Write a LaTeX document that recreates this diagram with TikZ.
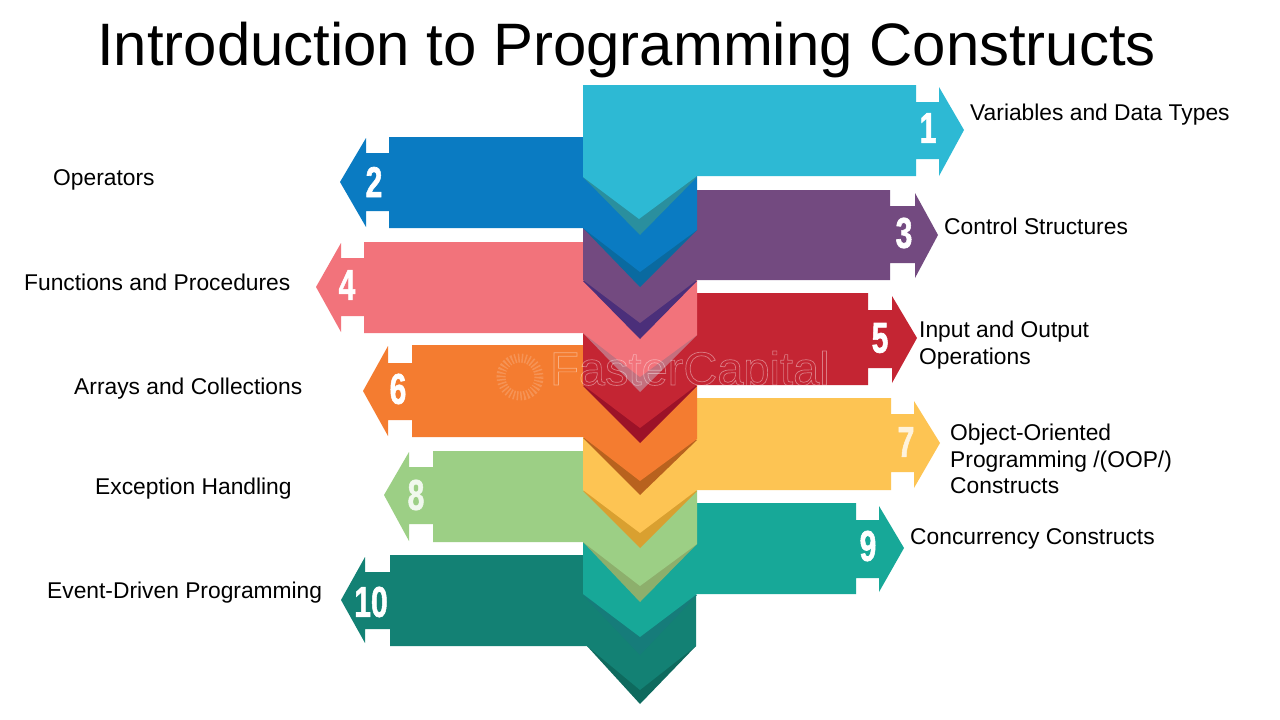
\documentclass[tikz,border=0pt]{standalone}
\usepackage{fontspec}
\setmainfont{Liberation Sans}
\definecolor{c1}{HTML}{2DB9D4}\definecolor{s1}{HTML}{2A8F9E}
\definecolor{c2}{HTML}{0A7BC2}\definecolor{s2}{HTML}{0A6AA0}
\definecolor{c3}{HTML}{734A80}\definecolor{s3}{HTML}{4B2F7A}
\definecolor{c4}{HTML}{F2737B}\definecolor{s4}{HTML}{C4707E}
\definecolor{c5}{HTML}{C42533}\definecolor{s5}{HTML}{9C1228}
\definecolor{c6}{HTML}{F47C30}\definecolor{s6}{HTML}{B8621E}
\definecolor{c7}{HTML}{FDC453}\definecolor{s7}{HTML}{D9A030}
\definecolor{c8}{HTML}{9CCF85}\definecolor{s8}{HTML}{8DAF6C}
\definecolor{c9}{HTML}{17A898}\definecolor{s9}{HTML}{167C7A}
\definecolor{c10}{HTML}{138174}\definecolor{s10}{HTML}{0E6A5E}
\tikzset{
  label text/.style={font=\fontsize{22.8}{26.5}\selectfont,text=black,inner sep=0pt,anchor=base west},
  digit/.style={font=\fontsize{43}{43}\selectfont\bfseries,text=white,inner sep=0pt},
  title text/.style={font=\fontsize{59.9}{62}\selectfont,text=black,inner sep=0pt,anchor=base west},
}
\newcommand{\dg}[1]{\special{pdf:code 2 Tr 0.7 w}\scalebox{0.7}[1]{#1}\special{pdf:code 0 Tr}}
\newcommand{\rarrow}[9]{%
  \fill[#1] (583,#2) -- (#4,#2) -- (#4,#5) -- (#7,#5) -- (#7,#2+3) -- (#8,#9) -- (#7,#3-2) -- (#7,#6) -- (#4,#6) -- (#4,#3) -- (697,#3) -- (640,#3+43) -- (583,#3) -- cycle;}
\newcommand{\larrow}[9]{%
  \fill[#1] (697,#2) -- (#4,#2) -- (#4,#5) -- (#7,#5) -- (#7,#2+1) -- (#8,#9) -- (#7,#3-1) -- (#7,#6) -- (#4,#6) -- (#4,#3) -- (583,#3) -- (640,#3+44) -- (697,#3+2) -- cycle;}
\newcommand{\shad}[4]{\fill[#1] (583,#2) -- (640,#4) -- (697,#3) -- cycle;}
\begin{document}
\begin{tikzpicture}[x=1pt,y=-1pt]
\useasboundingbox (0,0) rectangle (1280,720);
\fill[white] (0,0) rectangle (1280,720);
% stacked from the bottom up
\fill[s10] (587,646) -- (640,704) -- (696,646) -- cycle;
\fill[c10] (696,555) -- (390,555) -- (390,572) -- (365,572) -- (365,557) -- (341,600) -- (365,643) -- (365,629) -- (390,629) -- (390,646) -- (587,646) -- (640,690) -- (696,646) -- cycle;
\shad{s9}{595}{595}{655}
\rarrow{c9}{503}{594}{856}{520}{578}{879}{904}{548}
\shad{s8}{542}{544}{602}
\larrow{c8}{451}{542}{433}{467}{524}{409}{384}{495}
\shad{s7}{491}{491}{548}
\rarrow{c7}{398}{490}{891}{414}{472}{914}{940}{443}
\shad{s6}{438}{440}{495}
\larrow{c6}{345}{437}{412}{363}{420}{388}{363}{391}
\shad{s5}{386}{386}{443}
\rarrow{c5}{293}{385}{868}{310}{368}{892}{917}{338}
\shad{s4}{333}{335}{392}
\larrow{c4}{242}{333}{364}{258}{316}{341}{316}{287}
\shad{s3}{281}{281}{339}
\rarrow{c3}{190}{280}{890}{206}{263}{915}{938}{235}
\shad{s2}{228}{230}{287}
\larrow{c2}{137}{228}{389}{153}{211}{366}{340}{182}
\shad{s1}{177}{177}{235}
\fill[c1] (583,85) -- (916,85) -- (916,102) -- (939,102) -- (939,87) -- (964,130) -- (939,176) -- (939,159) -- (916,159) -- (916,176) -- (697,176) -- (639,219) -- (583,177) -- cycle;
% watermark
\draw[white,opacity=0.18,line width=9pt,dash pattern=on 1.5pt off 2pt] (520,377) circle (19);
\node[inner sep=0pt,anchor=base west,font=\fontsize{47}{47}\selectfont,text=white,text opacity=0.4] (wm) at (550,385) {\special{pdf:code 1 Tr 0.7 w}FasterCapital\special{pdf:code 0 Tr}};
% digits
\node[digit] (d1) at (928,128) {\dg{1}};
\node[digit] (d2) at (374,182) {\dg{2}};
\node[digit] (d3) at (904,233) {\dg{3}};
\node[digit] (d4) at (347,285) {\dg{4}};
\node[digit] (d5) at (880,338) {\dg{5}};
\node[digit] (d6) at (398,389) {\dg{6}};
\node[digit,text=white!80!c7] (d7) at (906,442) {\dg{7}};
\node[digit,text=white!85!c8] (d8) at (416,495) {\dg{8}};
\node[digit] (d9) at (868,546) {\dg{9}};
\node[digit] (d10) at (371,602) {\dg{10}};
% labels
\node[title text] (title) at (97,65) {Introduction to Programming Constructs};
\node[label text] (l1) at (970,120) {Variables and Data Types};
\node[label text] (l2) at (53,185) {Operators};
\node[label text] (l3) at (944,234) {Control Structures};
\node[label text] (l4) at (24,290) {Functions and Procedures};
\node[label text] (l5) at (919,337) {Input and Output};
\node[label text] (l5b) at (919,364) {Operations};
\node[label text] (l6) at (74,394) {Arrays and Collections};
\node[label text] (l7) at (950,440) {Object-Oriented};
\node[label text] (l7b) at (950,467) {Programming /(OOP/)};
\node[label text] (l7c) at (950,493) {Constructs};
\node[label text] (l8) at (95,494) {Exception Handling};
\node[label text] (l9) at (910,544) {Concurrency Constructs};
\node[label text] (l10) at (47,598) {Event-Driven Programming};
\end{tikzpicture}
\end{document}
